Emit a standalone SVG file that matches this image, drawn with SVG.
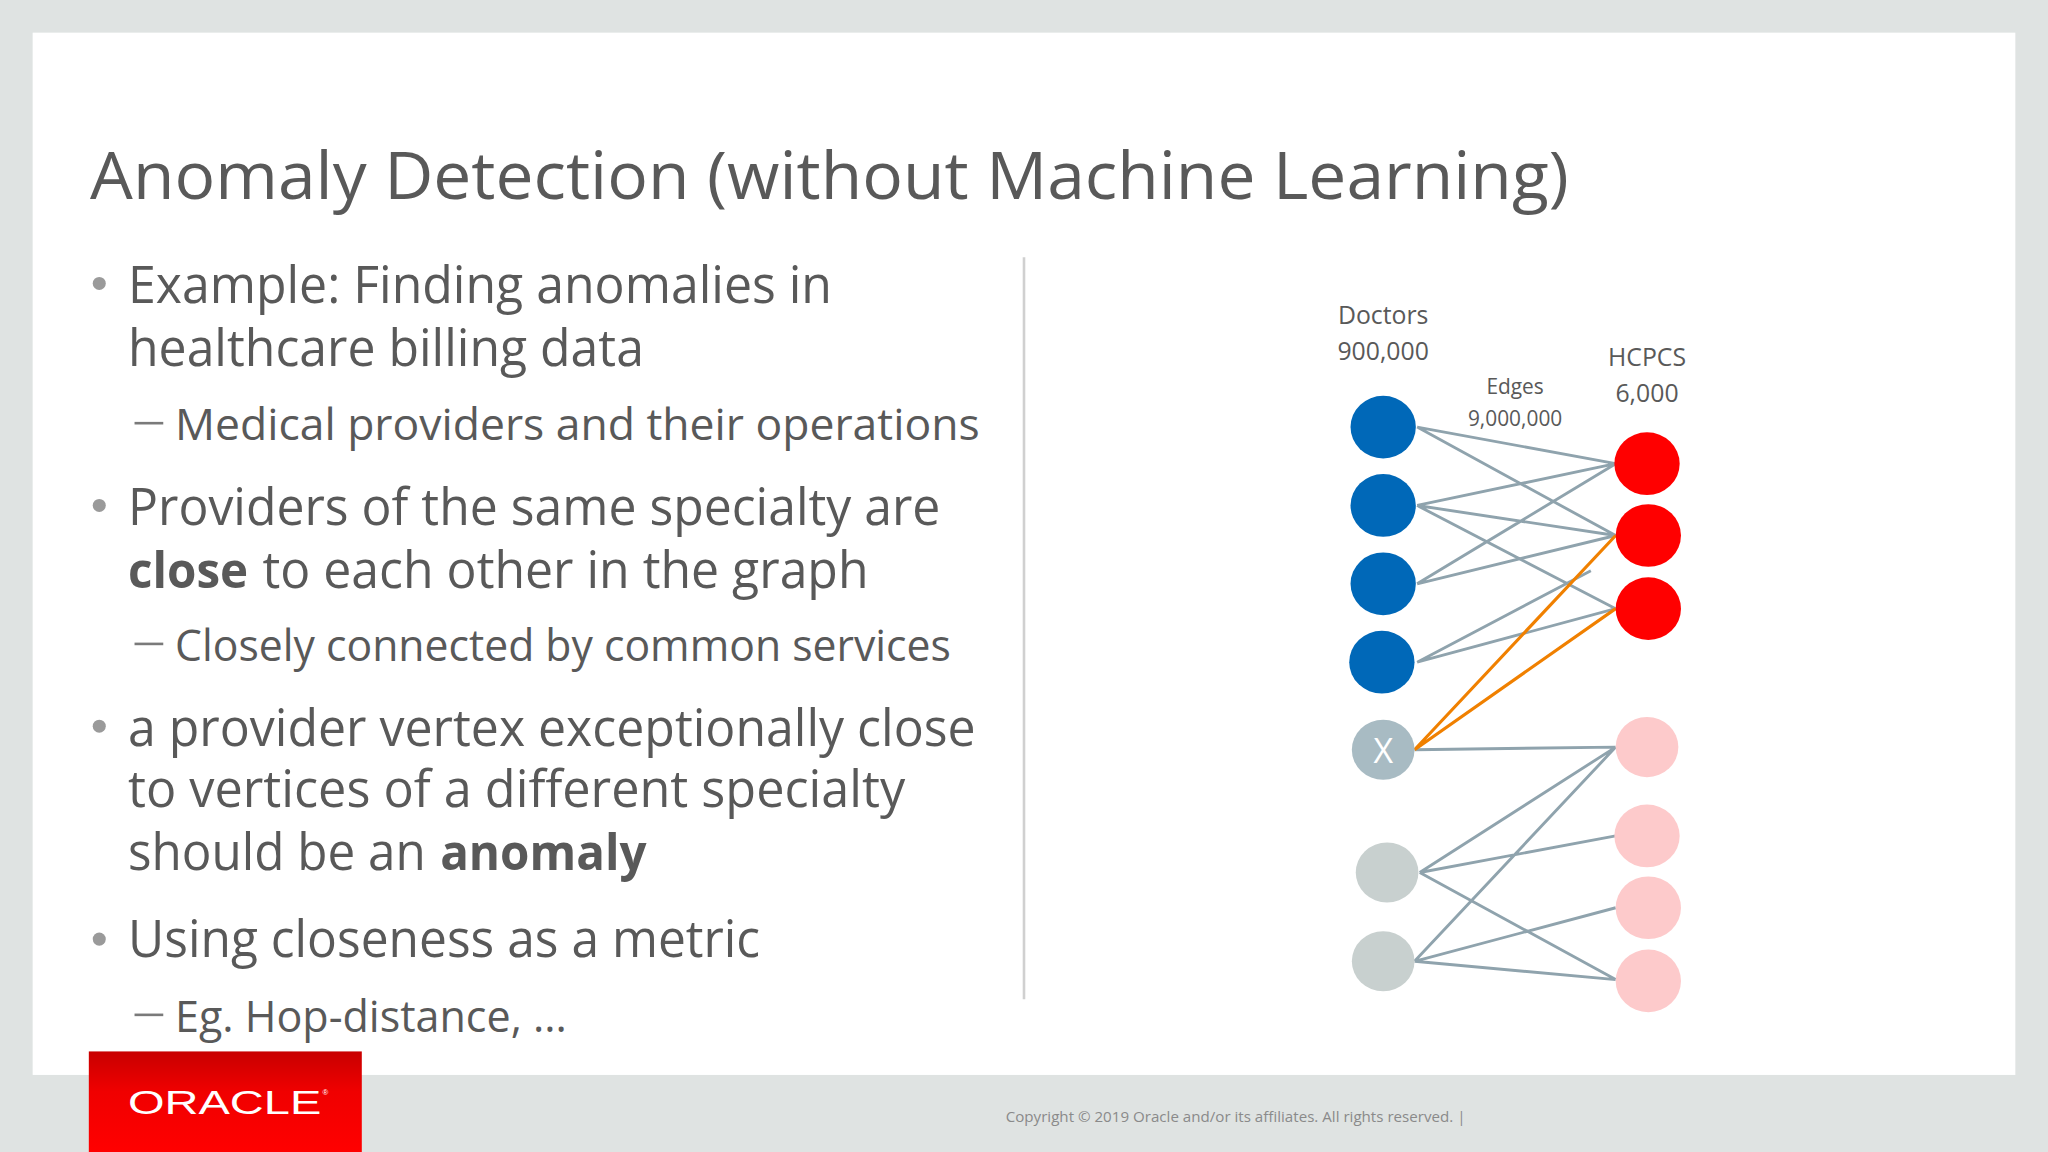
<svg xmlns="http://www.w3.org/2000/svg" width="2048" height="1152" viewBox="0 0 2048 1152">
<defs>
<style>
.t{font-family:"Open Sans","Noto Sans",sans-serif;fill:#595959}
.b{font-size:39px}
.s{font-size:34px}
.l{font-family:"Open Sans","Noto Sans",sans-serif;fill:#595959;text-anchor:middle}
.e{stroke:#8fa3ad;stroke-width:2.2;fill:none}
.o{stroke:#f08000;stroke-width:2.4;fill:none}
.dot{fill:#9a9a9a}
.dash{stroke:#7a7a7a;stroke-width:2}
</style>
<linearGradient id="rg" x1="0" y1="0" x2="0" y2="1"><stop offset="0" stop-color="#c80000"/><stop offset="0.4" stop-color="#f00000"/><stop offset="1" stop-color="#ff0000"/></linearGradient>
</defs>
<rect width="2048" height="1152" fill="#dfe3e2"/>
<g transform="scale(1.30612)">
<rect x="25" y="25" width="1518" height="798" fill="#ffffff"/>
<text class="t" x="69" y="152" font-size="50" textLength="1132" lengthAdjust="spacingAndGlyphs">Anomaly Detection (without Machine Learning)</text>
<g id="bullets">
<circle class="dot" cx="76" cy="217" r="5"/>
<text class="t b" x="98" y="232" textLength="539" lengthAdjust="spacingAndGlyphs">Example: Finding anomalies in</text>
<text class="t b" x="98" y="280" textLength="395" lengthAdjust="spacingAndGlyphs">healthcare billing data</text>
<line class="dash" x1="103" y1="324" x2="125" y2="324"/>
<text class="t s" x="134" y="337" textLength="616" lengthAdjust="spacingAndGlyphs">Medical providers and their operations</text>
<circle class="dot" cx="76" cy="387" r="5"/>
<text class="t b" x="98" y="402" textLength="622" lengthAdjust="spacingAndGlyphs">Providers of the same specialty are</text>
<text class="t b" x="98" y="450" font-weight="bold" textLength="92" lengthAdjust="spacingAndGlyphs">close</text>
<text class="t b" x="201" y="450" textLength="464" lengthAdjust="spacingAndGlyphs">to each other in the graph</text>
<line class="dash" x1="103" y1="493" x2="125" y2="493"/>
<text class="t s" x="134" y="506" textLength="594" lengthAdjust="spacingAndGlyphs">Closely connected by common services</text>
<circle class="dot" cx="76" cy="556" r="5"/>
<text class="t b" x="98" y="571" textLength="649" lengthAdjust="spacingAndGlyphs">a provider vertex exceptionally close</text>
<text class="t b" x="98" y="618" textLength="595" lengthAdjust="spacingAndGlyphs">to vertices of a different specialty</text>
<text class="t b" x="98" y="666" textLength="228" lengthAdjust="spacingAndGlyphs">should be an</text>
<text class="t b" x="337" y="666" font-weight="bold" textLength="158" lengthAdjust="spacingAndGlyphs">anomaly</text>
<circle class="dot" cx="76" cy="719" r="5"/>
<text class="t b" x="98" y="733" textLength="484" lengthAdjust="spacingAndGlyphs">Using closeness as a metric</text>
<line class="dash" x1="103" y1="777" x2="125" y2="777"/>
<text class="t s" x="134" y="790" textLength="300" lengthAdjust="spacingAndGlyphs">Eg. Hop-distance, ...</text>
</g>
<line x1="784" y1="197" x2="784" y2="765" stroke="#d0d0d0" stroke-width="2"/>
<g id="labels">
<text class="l" x="1059" y="248" font-size="19">Doctors</text>
<text class="l" x="1059" y="276" font-size="19">900,000</text>
<text class="l" x="1160" y="302" font-size="16">Edges</text>
<text class="l" x="1160" y="326" font-size="16">9,000,000</text>
<text class="l" x="1261" y="280" font-size="19">HCPCS</text>
<text class="l" x="1261" y="308" font-size="19">6,000</text>
</g>
<g id="connectors">
<path class="e" d="M1085 327L1237 355M1085 327L1237 410M1085 387L1237 355M1085 387L1237 410M1085 387L1237 466M1085 447L1237 355M1085 447L1237 410M1085 507L1218 437M1085 507L1237 466M1083 574L1237 572M1087 668L1237 572M1087 668L1237 640M1087 668L1237 750M1083 736L1237 572M1083 736L1237 695M1083 736L1237 750"/>
<path class="o" d="M1083 574L1237 410M1083 574L1237 466"/>
</g>
<g id="d1"><ellipse cx="1059" cy="327" rx="25" ry="24" fill="#0068b8"/></g>
<g id="d2"><ellipse cx="1059" cy="387" rx="25" ry="24" fill="#0068b8"/></g>
<g id="d3"><ellipse cx="1059" cy="447" rx="25" ry="24" fill="#0068b8"/></g>
<g id="d4"><ellipse cx="1058" cy="507" rx="25" ry="24" fill="#0068b8"/></g>
<g id="dx"><ellipse cx="1059" cy="574" rx="24" ry="23" fill="#a8bbc3"/><text x="1059" y="584" font-size="26" text-anchor="middle" fill="#ffffff" font-family="'Open Sans',sans-serif">X</text></g>
<g id="g1"><ellipse cx="1062" cy="668" rx="24" ry="23" fill="#c8d0cf"/></g>
<g id="g2"><ellipse cx="1059" cy="736" rx="24" ry="23" fill="#c8d0cf"/></g>
<g id="r1"><ellipse cx="1261" cy="355" rx="25" ry="24" fill="#ff0000"/></g>
<g id="r2"><ellipse cx="1262" cy="410" rx="25" ry="24" fill="#ff0000"/></g>
<g id="r3"><ellipse cx="1262" cy="466" rx="25" ry="24" fill="#ff0000"/></g>
<g id="p1"><ellipse cx="1261" cy="572" rx="24" ry="23" fill="#fdcacb"/></g>
<g id="p2"><ellipse cx="1261" cy="640" rx="25" ry="24" fill="#fdcacb"/></g>
<g id="p3"><ellipse cx="1262" cy="695" rx="25" ry="24" fill="#fdcacb"/></g>
<g id="p4"><ellipse cx="1262" cy="751" rx="25" ry="24" fill="#fdcacb"/></g>
<g id="logo">
<rect x="68" y="805" width="209" height="77" fill="url(#rg)"/>
<text x="98" y="853" font-size="25" fill="#ffffff" font-family="'Liberation Sans',sans-serif" textLength="148" lengthAdjust="spacingAndGlyphs">ORACLE</text>
<text x="247" y="838" font-size="6" fill="#ffffff" font-family="'Liberation Sans',sans-serif">®</text>
</g>
<text x="770" y="859" font-size="11" fill="#8a8a8a" font-family="'Open Sans',sans-serif" textLength="352" lengthAdjust="spacingAndGlyphs">Copyright © 2019 Oracle and/or its affiliates. All rights reserved.  |</text>
</g>
</svg>
